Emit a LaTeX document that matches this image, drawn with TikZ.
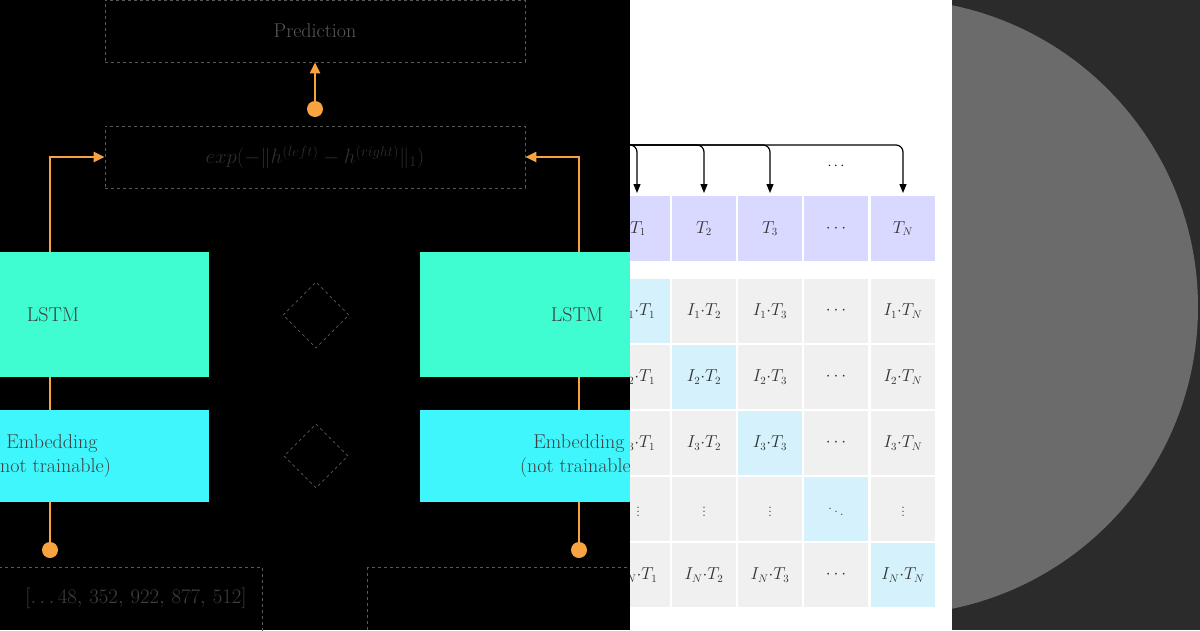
\documentclass[tikz,border=0pt]{standalone}
\usetikzlibrary{shapes.geometric,arrows.meta}
\begin{document}
\begin{tikzpicture}[x=1pt,y=-1pt,
  dbox/.style={draw=white!35!black,dashed,line width=0.8pt},
  hd/.style={fill=blue!15!white,draw=none,inner sep=0pt,minimum width=64pt,minimum height=65pt,font=\fontsize{16}{18}\selectfont,text=black!80},
  cl/.style={fill=gray!12,draw=none,inner sep=0pt,minimum width=64pt,minimum height=64pt,font=\fontsize{16}{18}\selectfont,text=black!80},
  dg/.style={cl,fill=cyan!17!white},
  big/.style={font=\fontsize{20}{24}\selectfont}]
\definecolor{wire}{HTML}{F7A440}
\definecolor{lst}{HTML}{3FFDD0}
\definecolor{emb}{HTML}{3FF6FC}
\tikzset{wire/.style={draw=wire,line width=2.2pt},dot/.style={circle,fill=wire,inner sep=0pt,minimum size=16pt}}
\useasboundingbox (0,0) rectangle (1200,630);
% left panel
\begin{scope}
\clip (0,0) rectangle (630,630);
\fill[black] (0,0) rectangle (630,630);
\node[dbox,minimum width=420pt,minimum height=62pt,text=white!35!black,big] (pred) at (315,31) {Prediction};
\node[dbox,minimum width=420pt,minimum height=62pt,text=white!18!black,font=\fontsize{22}{26}\selectfont] (expb) at (315,157) {$exp(-\|h^{(left)}-h^{(right)}\|_1)$};
\node[dot] (d0) at (315,109) {};
\draw[wire,-{Triangle[length=11pt,width=10pt]}] (d0) -- (pred.south);
\fill[lst] (0,252) rectangle (209,377);
\fill[lst] (420,252) rectangle (630,377);
\node[text=black!75,big] (l1) at (53,315) {LSTM};
\node[text=black!75,big] (l2) at (577,315) {LSTM};
\fill[emb] (0,410) rectangle (209,502);
\fill[emb] (420,410) rectangle (630,502);
\node[text=black!75,big,align=center] (e1) at (52,456) {Embedding\\(not trainable)};
\node[text=black!75,big,align=center] (e2) at (579,456) {Embedding\\(not trainable)};
\coordinate (a1) at (50,252); \coordinate (a2) at (579,252);
\draw[wire,-{Triangle[length=11pt,width=10pt]}] (a1) |- (expb.west);
\draw[wire,-{Triangle[length=11pt,width=10pt]}] (a2) |- (expb.east);
\draw[wire] (50,377) -- (50,410); \draw[wire] (579,377) -- (579,410);
\node[dot] (d1) at (50,550) {}; \node[dot] (d2) at (579,550) {};
\draw[wire] (50,502) -- (d1); \draw[wire] (579,502) -- (d2);
\node[diamond,dbox,minimum width=66pt,minimum height=66pt] (m1) at (316,315) {};
\node[diamond,dbox,minimum width=64pt,minimum height=64pt] (m2) at (316,456) {};
\draw[dbox] (-10,567) rectangle (262,640);
\draw[dbox] (367,567) rectangle (640,640);
\node[anchor=east,text=white!25!black,font=\fontsize{22}{26}\selectfont] (in1) at (250,598) {$[\ldots 48,\,352,\,922,\,877,\,512]$};
\end{scope}
% matrix panel
\begin{scope}
\clip (630,0) rectangle (952,630);
\fill[white] (630,0) rectangle (952,630);
\foreach \x/\t [count=\i] in {638/$T_1$,704/$T_2$,770/$T_3$,836/$\cdots$,903/$T_N$}
  \node[hd] (h\i) at (\x,228.5) {\t};
\foreach \y/\s [count=\r] in {311/1,377/2,443/3,509/x,575/N}{
  \foreach \x [count=\c] in {638,704,770,836,903}{
    \ifnum\r=4 \ifnum\c=4 \def\txt{$\ddots$}\else\def\txt{$\vdots$}\fi
    \else \ifnum\c=4 \def\txt{$\cdots$}\else
      \ifnum\c=5 \def\txt{$I_\s{\cdot}T_N$}\else\def\txt{$I_\s{\cdot}T_\c$}\fi\fi\fi
    \ifnum\r=\c \node[dg] (c\r\c) at (\x,\y) {\txt}; \else \node[cl] (c\r\c) at (\x,\y) {\txt}; \fi
  }}
\coordinate (t0) at (630,145);
\foreach \x/\i in {637/1,704/2,770/3,903/5}{
  \coordinate (p\i) at (\x,193);
  \draw[line width=1.2pt,rounded corners=7pt,-{Triangle[length=9pt,width=7pt]}] (t0) -| (p\i);}
\node[font=\fontsize{14}{16}\selectfont] (dd) at (836,166) {$\cdots$};
\end{scope}
% right panel
\begin{scope}
\clip (952,0) rectangle (1200,630);
\fill[black!83] (952,0) rectangle (1200,630);
\fill[black!58] (890,307) circle (308);
\end{scope}
\end{tikzpicture}
\end{document}
